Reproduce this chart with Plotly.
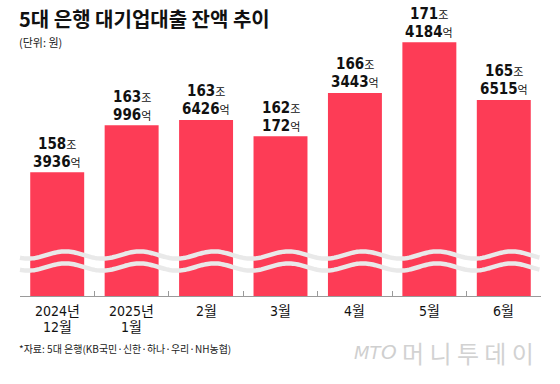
import numpy as np
import plotly.graph_objects as go

# ---- data ----
categories = ["2024년 12월", "2025년 1월", "2월", "3월", "4월", "5월", "6월"]
label_line1 = ["2024년", "2025년", "2월", "3월", "4월", "5월", "6월"]
label_line2 = ["12월", "1월", "", "", "", "", ""]
jo = [158, 163, 163, 162, 166, 171, 165]          # 조 part
eok = [3936, 996, 6426, 172, 3443, 4184, 6515]    # 억 part
values = [158.3936, 163.0996, 163.6426, 162.0172, 166.3443, 171.4184, 165.6515]  # 조 원

# ---- geometry helpers (layout only) ----
W, H = 560, 384
ML, MR, MT, MB = 20, 18.5, 20, 88
PW, PH = W - ML - MR, H - MT - MB
Y0 = 146.0
PX_PER_UNIT = 9.98
Y1 = Y0 + PH / PX_PER_UNIT


def xp(px):
    return (px - ML) / PW


def yp(py):
    return (H - MB - py) / PH


BAR = "#fd3c56"
NUM_FONT = "DejaVu Sans Condensed, Liberation Sans, Noto Sans CJK KR, sans-serif"
KR_FONT = "Noto Sans CJK KR, sans-serif"

fig = go.Figure()
fig.add_trace(go.Bar(x=categories, y=values, marker=dict(color=BAR, line=dict(width=0)),
                     hoverinfo="skip"))

ann = []
# value labels
for c, j, e, v in zip(categories, jo, eok, values):
    ann.append(dict(x=c, y=v, xref="x", yref="y", yanchor="middle", xanchor="center",
                    yshift=28.5, showarrow=False,
                    text=f"<b>{j}</b><span style='font-size:11px'>조</span>",
                    font=dict(family=NUM_FONT, size=15, color="#111")))
    ann.append(dict(x=c, y=v, xref="x", yref="y", yanchor="middle", xanchor="center",
                    yshift=10.5, showarrow=False,
                    text=f"<b>{e}</b><span style='font-size:11px'>억</span>",
                    font=dict(family=NUM_FONT, size=15, color="#111")))
# category labels
for c, l1, l2 in zip(categories, label_line1, label_line2):
    ann.append(dict(x=c, y=0, xref="x", yref="paper", yanchor="middle", xanchor="center",
                    yshift=-15, showarrow=False, text=l1,
                    font=dict(family=NUM_FONT, size=14, color="#111")))
    if l2:
        ann.append(dict(x=c, y=0, xref="x", yref="paper", yanchor="middle", xanchor="center",
                        yshift=-31, showarrow=False, text=l2,
                        font=dict(family=NUM_FONT, size=14, color="#111")))

# title, subtitle, source, logo
ann.append(dict(x=xp(17), y=yp(18.5), xref="paper", yref="paper", xanchor="left", yanchor="middle",
                showarrow=False, text="<b>5대 은행 대기업대출 잔액 추이</b>",
                font=dict(family=KR_FONT, size=20, color="#111")))
ann.append(dict(x=xp(17), y=yp(42), xref="paper", yref="paper", xanchor="left", yanchor="middle",
                showarrow=False, text="(단위: 원)",
                font=dict(family=KR_FONT, size=11, color="#222")))
ann.append(dict(x=xp(17), y=yp(348), xref="paper", yref="paper", xanchor="left", yanchor="middle",
                showarrow=False, text="*자료: 5대 은행(KB국민·신한·하나·우리·NH농협)",
                font=dict(family=KR_FONT, size=10, color="#222")))
ann.append(dict(x=xp(352), y=yp(352), xref="paper", yref="paper", xanchor="left", yanchor="middle",
                showarrow=False, text="<i>MT</i>",
                font=dict(family="DejaVu Sans, sans-serif", size=18, color="#cfcfcf")))
ann.append(dict(x=xp(379), y=yp(352), xref="paper", yref="paper", xanchor="left", yanchor="middle",
                showarrow=False, text="<i>O</i>",
                font=dict(family="DejaVu Sans, sans-serif", size=20, color="#cfcfcf")))
ann.append(dict(x=xp(400), y=yp(352), xref="paper", yref="paper", xanchor="left", yanchor="middle",
                showarrow=False, text="머 니 투 데 이",
                font=dict(family=KR_FONT, size=24, color="#d2d2d2")))

# wavy break lines (decoration, paper coords)
shapes = []
xs_px = np.linspace(20, 540, 300)
for mid in (255.0, 267.0):
    ys_px = mid - 3.6 * np.cos(2 * np.pi * (xs_px - (ML + PW / 14 + 8)) / (PW / 7))
    pts = [f"{xp(a):.5f},{yp(b):.5f}" for a, b in zip(xs_px, ys_px)]
    path = "M" + " L".join(pts)
    shapes.append(dict(type="path", path=path, xref="paper", yref="paper",
                       line=dict(color="#e9e9e9", width=4.5), layer="above"))

fig.update_layout(
    width=W, height=H,
    margin=dict(l=ML, r=MR, t=MT, b=MB, pad=0),
    paper_bgcolor="white", plot_bgcolor="white",
    showlegend=False, bargap=0.275,
    annotations=ann, shapes=shapes,
    xaxis=dict(type="category", range=[-0.5, 6.5], showgrid=False, zeroline=False,
               showline=True, linecolor="#9a9a9a", linewidth=1,
               ticks="inside", tickson="boundaries", ticklen=5, tickcolor="#9a9a9a",
               showticklabels=False, fixedrange=True),
    yaxis=dict(range=[Y0, Y1], visible=False, showgrid=False, zeroline=False, fixedrange=True),
)

fig.write_html("out.html", config={"displayModeBar": False},
               post_script="document.body.style.margin='0';document.body.style.padding='0';")
